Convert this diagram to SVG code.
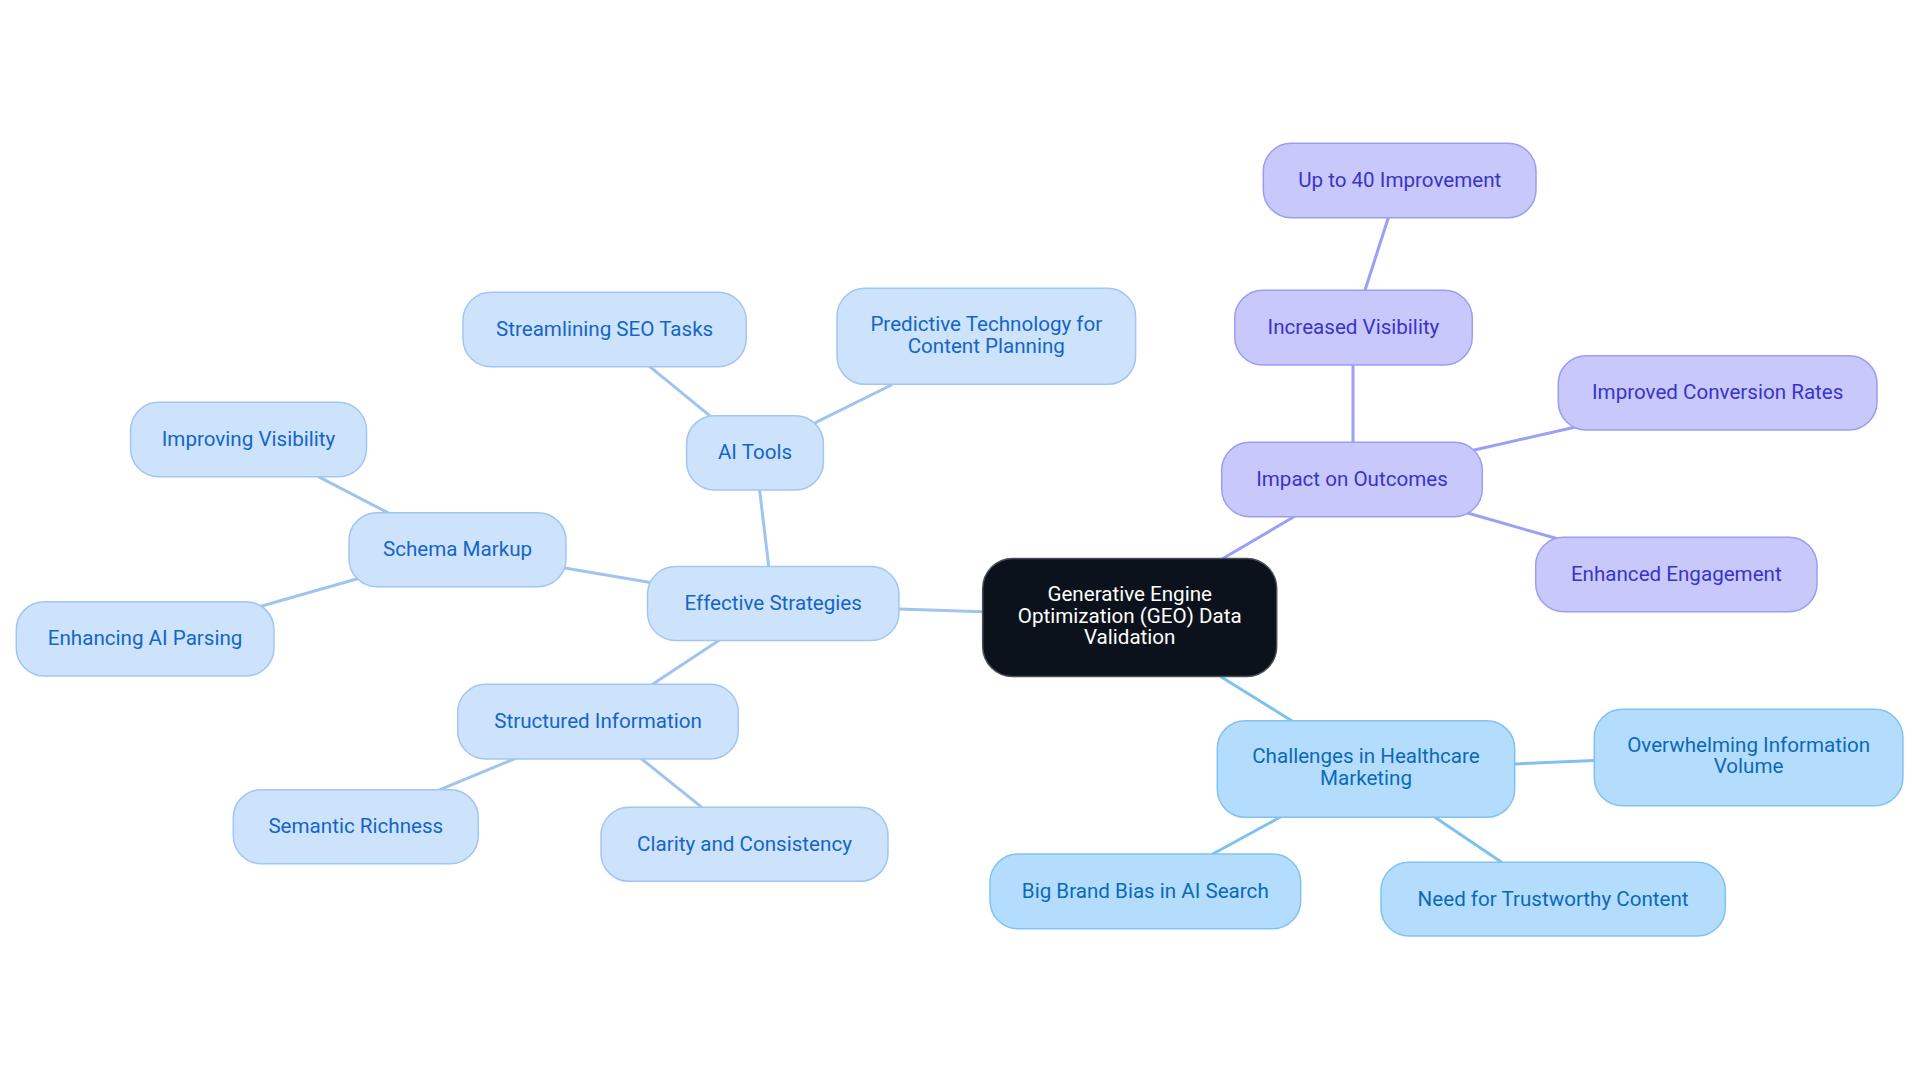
<svg xmlns="http://www.w3.org/2000/svg" width="1920" height="1083" viewBox="0 0 1920 1083">
<style>
  text { font-family: Roboto, "Liberation Sans", Arial, sans-serif; font-size: 20.6px; text-anchor: middle; }
  .b rect { fill: #cde3fb; stroke: #a2c6f1; stroke-width: 1.5; }
  .b text { fill: #1565c8; }
  .p rect { fill: #c8c9fa; stroke: #9b9df2; stroke-width: 1.5; }
  .p text { fill: #3a33c9; }
  .s rect { fill: #b4ddfd; stroke: #82c2f0; stroke-width: 1.5; }
  .s text { fill: #0b69b9; }
  .c rect { fill: #0c121b; stroke: #4a4f57; stroke-width: 1.5; }
  .c text { fill: #ffffff; }
  #connectors line { stroke-width: 3; stroke-linecap: round; fill: none; }
  .lb { stroke: #a0c4ee; }
  .lp { stroke: #9ca0f2; }
  .ls { stroke: #7ec2ef; }
</style>
<rect x="0" y="0" width="1920" height="1083" fill="#ffffff"/>
<g id="connectors">
  <line class="lb" x1="899" y1="609" x2="983" y2="611.7"/>
  <line class="lb" x1="768.7" y1="566" x2="759.6" y2="490"/>
  <line class="lb" x1="710.9" y1="416.7" x2="649.8" y2="366.7"/>
  <line class="lb" x1="811.9" y1="424.3" x2="891.3" y2="385"/>
  <line class="lb" x1="652" y1="582.7" x2="563" y2="567.7"/>
  <line class="lb" x1="387.8" y1="512.7" x2="318.4" y2="476.7"/>
  <line class="lb" x1="359.2" y1="578.3" x2="259.2" y2="606.7"/>
  <line class="lb" x1="718.8" y1="640.4" x2="652.5" y2="684.3"/>
  <line class="lb" x1="514" y1="759" x2="440" y2="789.7"/>
  <line class="lb" x1="641.7" y1="759" x2="701" y2="806.7"/>
  <line class="lp" x1="1223.3" y1="558.3" x2="1294" y2="516.7"/>
  <line class="lp" x1="1353" y1="442.3" x2="1353" y2="365"/>
  <line class="lp" x1="1365" y1="290.3" x2="1388.3" y2="217.7"/>
  <line class="lp" x1="1470" y1="451" x2="1576.7" y2="426.7"/>
  <line class="lp" x1="1465" y1="512.3" x2="1559.3" y2="539.3"/>
  <line class="ls" x1="1221.7" y1="677.3" x2="1291.7" y2="720.7"/>
  <line class="ls" x1="1280" y1="817.3" x2="1212.7" y2="854"/>
  <line class="ls" x1="1435" y1="817.3" x2="1501.2" y2="862"/>
  <line class="ls" x1="1514.7" y1="764" x2="1594.3" y2="760.4"/>
</g>
<g id="node-center" class="c">
  <rect x="982.7" y="558.5" width="294" height="118" rx="30"/>
  <text x="1129.7" y="601">Generative Engine</text>
  <text x="1129.7" y="622.6">Optimization (GEO) Data</text>
  <text x="1129.7" y="644.3">Validation</text>
</g>
<g id="node-effective-strategies" class="b">
  <rect x="647.5" y="566.5" width="251.5" height="74" rx="28"/>
  <text x="773.2" y="610">Effective Strategies</text>
</g>
<g id="node-ai-tools" class="b">
  <rect x="686.6" y="415.7" width="136.8" height="74.3" rx="28"/>
  <text x="755" y="459.3">AI Tools</text>
</g>
<g id="node-streamlining" class="b">
  <rect x="463" y="292.3" width="283.2" height="74.4" rx="28"/>
  <text x="604.6" y="336">Streamlining SEO Tasks</text>
</g>
<g id="node-predictive" class="b">
  <rect x="837" y="288.3" width="298.6" height="96" rx="28"/>
  <text x="986.3" y="331">Predictive Technology for</text>
  <text x="986.3" y="352.6">Content Planning</text>
</g>
<g id="node-schema" class="b">
  <rect x="349" y="512.7" width="217" height="74" rx="28"/>
  <text x="457.5" y="556.2">Schema Markup</text>
</g>
<g id="node-improving-visibility" class="b">
  <rect x="130.6" y="402.3" width="235.9" height="74.4" rx="28"/>
  <text x="248.5" y="446">Improving Visibility</text>
</g>
<g id="node-enhancing-ai" class="b">
  <rect x="16.3" y="601.7" width="257.7" height="74.3" rx="28"/>
  <text x="145.1" y="645.3">Enhancing AI Parsing</text>
</g>
<g id="node-structured" class="b">
  <rect x="457.7" y="684.3" width="280.6" height="74.7" rx="28"/>
  <text x="598" y="728.1">Structured Information</text>
</g>
<g id="node-semantic" class="b">
  <rect x="233.3" y="789.7" width="245" height="74" rx="28"/>
  <text x="355.8" y="833.2">Semantic Richness</text>
</g>
<g id="node-clarity" class="b">
  <rect x="601" y="807.3" width="287" height="74" rx="28"/>
  <text x="744.5" y="850.8">Clarity and Consistency</text>
</g>
<g id="node-impact" class="p">
  <rect x="1221.7" y="442.3" width="260.6" height="74.4" rx="28"/>
  <text x="1352" y="486">Impact on Outcomes</text>
</g>
<g id="node-increased-visibility" class="p">
  <rect x="1234.7" y="290.3" width="237.6" height="74.7" rx="28"/>
  <text x="1353.5" y="334.2">Increased Visibility</text>
</g>
<g id="node-up-to-40" class="p">
  <rect x="1263.3" y="143.3" width="272.7" height="74.4" rx="28"/>
  <text x="1399.7" y="187">Up to 40 Improvement</text>
</g>
<g id="node-conversion" class="p">
  <rect x="1558.3" y="355.7" width="318.7" height="74.3" rx="28"/>
  <text x="1717.7" y="399.4">Improved Conversion Rates</text>
</g>
<g id="node-engagement" class="p">
  <rect x="1535.7" y="537.3" width="281.3" height="74.4" rx="28"/>
  <text x="1676.3" y="581">Enhanced Engagement</text>
</g>
<g id="node-challenges" class="s">
  <rect x="1217.3" y="720.7" width="297.4" height="96.6" rx="28"/>
  <text x="1366" y="762.6">Challenges in Healthcare</text>
  <text x="1366" y="784.8">Marketing</text>
</g>
<g id="node-big-brand" class="s">
  <rect x="990" y="854" width="310.7" height="74.7" rx="28"/>
  <text x="1145.3" y="897.8">Big Brand Bias in AI Search</text>
</g>
<g id="node-trustworthy" class="s">
  <rect x="1381" y="862.3" width="344.3" height="73.7" rx="28"/>
  <text x="1553.1" y="905.6">Need for Trustworthy Content</text>
</g>
<g id="node-overwhelming" class="s">
  <rect x="1594.3" y="709.3" width="308.6" height="96.4" rx="28"/>
  <text x="1748.6" y="751.6">Overwhelming Information</text>
  <text x="1748.6" y="773.2">Volume</text>
</g>
</svg>
